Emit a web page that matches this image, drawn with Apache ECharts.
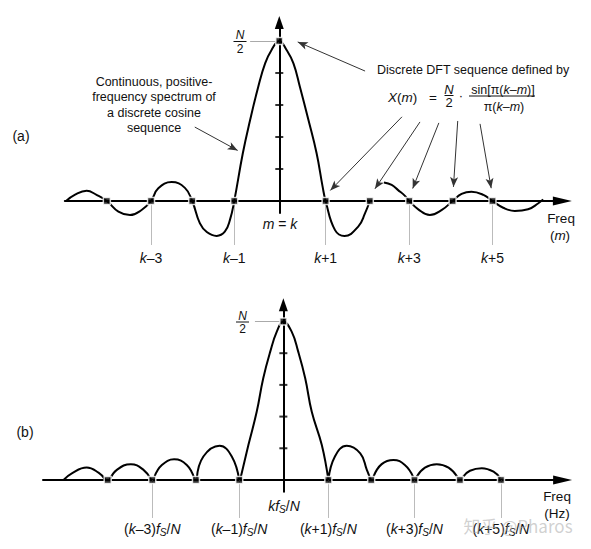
<!DOCTYPE html>
<html>
<head>
<meta charset="utf-8">
<title>DFT of a discrete cosine</title>
<script src="https://cdn.jsdelivr.net/npm/echarts@6/dist/echarts.min.js"></script>
<style>
html, body { margin: 0; padding: 0; background: #fff; }
#chart { width: 591px; height: 549px; }
</style>
</head>
<body>
<div id="chart"></div>
<script>
// ---- (a) continuous spectrum: x = bin offset from k, y in tick units (N/2 = 5)
var specA_m = [-4.97,-4.76,-4.49,-4.26,-4.02,-3.75,-3.48,-3.21,-2.99,-2.82,-2.51,-2.20,-2.03,
  -1.85,-1.69,-1.46,-1.27,-1.15,-1.05,-0.85,-0.68,-0.49,-0.33,-0.18,0,0.17,0.33,0.48,0.68,0.87,
  1.01,1.08,1.30,1.52,1.84,2.00,2.11,2.25,2.44,2.62,2.77,2.93,3.03,3.24,3.51,3.79,4.04,4.25,
  4.48,4.76,4.97,5.22,5.49,5.80,6.04,6.15];
var specA_y = [0,0.20,0.32,0.19,0,-0.33,-0.44,-0.28,0,0.40,0.59,0.41,0,
  -0.70,-0.97,-1.09,-0.96,-0.59,0,1.49,2.53,3.57,4.30,4.72,5,4.72,4.30,3.57,2.53,1.49,
  0.45,0,-0.91,-1.09,-0.80,-0.38,0,null,0.58,0.50,0.34,0.16,0,-0.26,-0.44,-0.28,0,0.22,
  0.29,0.19,0,-0.21,-0.31,-0.26,-0.07,0.05];
// DFT samples (black squares)
var dftA_m = [-4.02,-2.99,-2.03,-1.05,0,1.08,2.11,3.03,4.04,4.97];
var dftA_y = [0,0,0,0,5,0,0,0,0,0];
var labA_m = [-2.99,-1.05,1.08,3.03,4.97];
var labA = ['k–3','k–1','k+1','k+3','k+5'];

// ---- (b) magnitude spectrum, lobes drawn separately (null = break)
var specB_m = [-5.03,-4.84,-4.50,-4.23,-4.08,-4.02,-3.97,-3.81,-3.49,-3.20,-3.03,-3.0,
  -2.95,-2.78,-2.50,-2.21,-2.04,-2.0,-1.98,-1.83,-1.46,-1.18,-1.01,-1.0,
  -0.99,-0.80,-0.61,-0.46,-0.30,-0.15,0,0.19,0.34,0.50,0.65,0.88,1.03,1.03,
  1.03,1.18,1.45,1.76,1.91,2.0,2.03,2.06,2.25,2.52,2.78,2.97,3.0,
  3.05,3.24,3.51,3.78,3.98,4.05,4.11,4.27,4.54,4.81,4.96];
var specB_y = [0,0.21,0.39,0.23,0.02,null,0.02,0.32,0.50,0.32,0.02,null,
  0.10,0.47,0.65,0.47,0.05,null,0.05,0.74,1.08,0.74,0,null,
  0,1.10,2.15,3.21,4.05,4.68,5,4.68,4.05,3.21,2.15,1.10,0,null,
  0,0.74,1.08,0.84,0.32,0,null,0.10,0.50,0.63,0.47,0.10,null,
  0.10,0.39,0.50,0.39,0.10,null,0.10,0.29,0.37,0.26,0.05];
var dftB_m = [-4.02,-3.00,-2.00,-1.01,0,1.03,2.01,3.00,4.04,4.98];
var dftB_y = [0,0,0,0,5,0,0,0,0,0];
var labB_m = [-3.00,-1.01,1.03,3.00,4.98];
var labB = ['(k–3)f_S/N','(k–1)f_S/N','(k+1)f_S/N','(k+3)f_S/N','(k+5)f_S/N'];

var ampTicks = [1,2,3,4];

// annotation arrows in panel (a), [from, to] in data units
var notesA = [
  [[-1.97,2.31],[-0.97,1.58]],
  [[2.00,4.06],[0.43,4.97]],
  [[2.86,2.63],[1.19,0.33]],
  [[3.28,2.47],[2.23,0.38]],
  [[3.72,2.44],[3.11,0.39]],
  [[4.16,2.50],[4.06,0.44]],
  [[4.68,2.41],[4.94,0.40]]
];

var INK = '#111';
var FONT = '"Liberation Sans", Arial, Helvetica, sans-serif';

function pairs(ms, ys) {
  return ms.map(function (m, i) { return [m, ys[i] === null ? '-' : ys[i]]; });
}
function nearest(arr, v) {
  var best = 0;
  for (var i = 1; i < arr.length; i++) if (Math.abs(arr[i] - v) < Math.abs(arr[best] - v)) best = i;
  return best;
}
function sty(size, italic) {
  return { fontFamily: FONT, fontSize: size, fontStyle: italic ? 'italic' : 'normal', color: INK, fill: INK };
}
function richSet(size) {
  var s = sty(size * 0.72, true);
  s.padding = [7, 0, 0, 0];
  return { r: sty(size, false), i: sty(size, true), s: s };
}
// letters italic, "_X" subscript, rest upright
function mathRich(str) {
  var out = '';
  for (var i = 0; i < str.length; i++) {
    var c = str.charAt(i);
    if (c === '_') out += '{s|' + str.charAt(++i) + '}';
    else if (/[A-Za-z]/.test(c)) out += '{i|' + c + '}';
    else out += '{r|' + c + '}';
  }
  return out;
}

function txt(x, y, text, size, opt) {
  opt = opt || {};
  return {
    type: 'text', x: x, y: y, silent: true,
    style: {
      text: text, rich: opt.rich, fill: opt.color || INK,
      font: (opt.italic ? 'italic ' : '') + size + 'px ' + FONT,
      lineHeight: opt.lineHeight,
      align: opt.align || 'center', verticalAlign: opt.valign || 'middle',
      textAlign: opt.align || 'center', textVerticalAlign: opt.valign || 'middle'
    }
  };
}
function seg(x1, y1, x2, y2, color, w) {
  return { type: 'line', silent: true, shape: { x1: x1, y1: y1, x2: x2, y2: y2 },
    style: { stroke: color || INK, lineWidth: w || 1 } };
}
function frac(x, yBar, size, half) {
  return [
    txt(x, yBar - 6.5, 'N', size, { italic: true }),
    seg(x - half, yBar, x + half, yBar, INK, 1),
    txt(x, yBar + 7, '2', size)
  ];
}

var R14 = richSet(14);

function xAxisOf(grid, min, max, tickM, labels, tickLen, margin) {
  return {
    type: 'value', gridIndex: grid, min: min, max: max,
    axisLine: { show: true, onZero: true, symbol: ['none', 'triangle'], symbolSize: [9, 19],
      lineStyle: { color: '#000', width: 2 } },
    axisTick: { show: true, customValues: tickM, length: tickLen, lineStyle: { color: '#bbb', width: 1 } },
    axisLabel: { show: true, customValues: tickM, margin: margin, rich: R14,
      formatter: function (v) { return mathRich(labels[nearest(tickM, v)]); } },
    splitLine: { show: false }
  };
}
function yAxisOf(grid, min, max) {
  return {
    type: 'value', gridIndex: grid, min: min, max: max,
    axisLine: { show: true, onZero: true, symbol: ['none', 'triangle'], symbolSize: [9, 13],
      lineStyle: { color: '#000', width: 2 } },
    axisTick: { show: false }, axisLabel: { show: false }, splitLine: { show: false }
  };
}
function curve(idx, data, extra) {
  var s = {
    type: 'line', xAxisIndex: idx, yAxisIndex: idx, data: data, smooth: 0.45,
    showSymbol: false, clip: false, silent: true, connectNulls: false,
    lineStyle: { color: '#000', width: 2 }, z: 3
  };
  for (var k in extra) s[k] = extra[k];
  return s;
}
function samples(idx, data, guide) {
  return {
    type: 'scatter', xAxisIndex: idx, yAxisIndex: idx, data: data, symbol: 'rect', symbolSize: 7,
    silent: true, clip: false, z: 5,
    itemStyle: { color: '#000', borderColor: '#fff', borderWidth: 1.5 },
    markLine: { silent: true, symbol: 'none', label: { show: false },
      lineStyle: { color: '#aaa', width: 1, type: 'solid' },
      data: [[{ coord: [guide[0], 5] }, { coord: [guide[1], 5] }]] }
  };
}
function ampTickSeries(idx) {
  return {
    type: 'scatter', xAxisIndex: idx, yAxisIndex: idx, silent: true, z: 4,
    data: ampTicks.map(function (v) { return [0, v]; }),
    symbol: 'rect', symbolSize: [8, 2], itemStyle: { color: '#000' }
  };
}

var myChart = echarts.init(document.getElementById('chart'), null, { renderer: 'svg' });

var graphic = [
  txt(21, 136, '(a)', 14),
  txt(25, 432, '(b)', 14),
  txt(154, 74.5, 'Continuous, positive-\nfrequency spectrum of\na discrete cosine\nsequence', 12.5,
    { valign: 'top', lineHeight: 15.3 }),
  txt(377, 70, 'Discrete DFT sequence defined by', 12.5, { align: 'left' }),
  txt(388, 97, '{i|X}{r|(}{i|m}{r|)}', 13.5, { align: 'left', rich: richSet(13.5) }),
  txt(433, 97, '=', 13.5),
  txt(461, 95, '·', 13),
  txt(503, 89.5, '{r|sin[π(}{i|k}{r|–}{i|m}{r|)]}', 12.5, { rich: richSet(12.5) }),
  seg(469, 96, 535, 96, INK, 1),
  txt(504, 106.5, '{r|π(}{i|k}{r|–}{i|m}{r|)}', 12.5, { rich: richSet(12.5) }),
  txt(280, 224, mathRich('m = k'), 14, { rich: R14 }),
  txt(561, 218, 'Freq', 13.5),
  txt(560, 235, '{r|(}{i|m}{r|)}', 13.5, { rich: richSet(13.5) }),
  txt(284, 506, mathRich('kf_S/N'), 14, { rich: R14 }),
  txt(557, 496, 'Freq', 13.5),
  txt(557, 513, '(Hz)', 13.5),
  {
    type: 'text', x: 518, y: 525, silent: true, z: 100,
    style: { text: '知乎 @Pharos', font: '17px "Noto Sans CJK SC", sans-serif',
      fill: 'rgba(170,170,170,0.55)', align: 'center', verticalAlign: 'middle',
      textAlign: 'center', textVerticalAlign: 'middle' }
  }
].concat(frac(240, 41.5, 12, 6.5), frac(242.5, 322, 12, 6.5), frac(449, 95.5, 13, 4.5));

var option = {
  backgroundColor: '#fff',
  animation: false,
  textStyle: { fontFamily: FONT, color: INK },
  grid: [
    { left: 64.8, top: 22.4, width: 497.6, height: 190.6, outerBoundsMode: 'none', containLabel: false },
    { left: 43, top: 304.7, width: 519.6, height: 187, outerBoundsMode: 'none', containLabel: false }
  ],
  xAxis: [
    xAxisOf(0, -5, 6.6, labA_m, labA, 44, 38),
    xAxisOf(1, -5.5, 6.39, labB_m, labB, 38, 29)
  ],
  yAxis: [
    yAxisOf(0, -0.375, 5.58),
    yAxisOf(1, -0.37, 5.53)
  ],
  series: [
    curve(0, pairs(specA_m, specA_y), {
      markLine: {
        silent: true, symbol: ['none', 'arrow'], symbolSize: [6, 10], label: { show: false },
        lineStyle: { color: '#333', width: 1, type: 'solid' },
        data: notesA.map(function (a) { return [{ coord: a[0] }, { coord: a[1] }]; })
      }
    }),
    samples(0, pairs(dftA_m, dftA_y), [-0.68, -0.05]),
    ampTickSeries(0),
    curve(1, pairs(specB_m, specB_y), {}),
    samples(1, pairs(dftB_m, dftB_y), [-0.65, -0.05]),
    ampTickSeries(1)
  ],
  graphic: graphic
};

myChart.setOption(option);
</script>
</body>
</html>
